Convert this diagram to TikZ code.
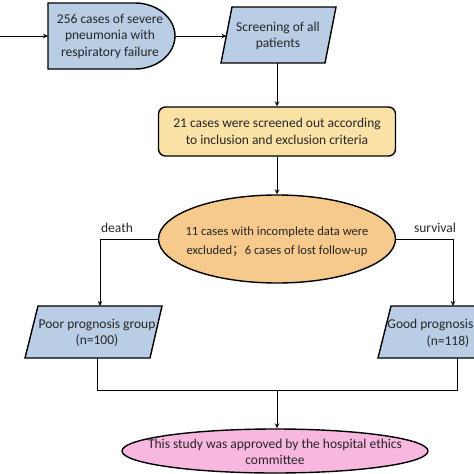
\documentclass[tikz,border=0pt]{standalone}
\usepackage{fontspec}
\setmainfont{Carlito}
\newfontfamily\cjk{Noto Sans CJK SC}
\usetikzlibrary{shapes.geometric,arrows.meta}
\definecolor{boxblue}{HTML}{B9CDE5}
\definecolor{boxgold}{HTML}{FAE2A6}
\definecolor{ellorange}{HTML}{F6C98C}
\definecolor{ellpink}{HTML}{F7B7DF}
\definecolor{txtgray}{HTML}{262626}
\tikzset{
  shapeline/.style={draw=black,line width=1.4pt},
  txt/.style={align=center,font=\fontsize{13.5}{16.5}\selectfont,text=txtgray,inner sep=0pt},
  conn/.style={draw=black,line width=0.9pt},
  arr/.style={conn,-{Stealth[length=5pt,width=4.5pt]}},
  lbl/.style={font=\fontsize{13.5}{15}\selectfont,text=txtgray,inner sep=0pt},
  ell/.style={shapeline,ellipse,inner sep=0pt},
}
\begin{document}
\begin{tikzpicture}[x=1pt,y=-1pt]
\useasboundingbox (0,0) rectangle (474,474);
\clip (0,0) rectangle (474,474);
% delay shape
\path[shapeline,fill=boxblue] (48,3) -- (135,3) .. controls (157,3) and (175,18) .. (175,36)
  .. controls (175,54) and (157,69) .. (135,69) -- (48,69) -- cycle;
\node[txt] (start) at (110,36) {256 cases of severe\\pneumonia with\\respiratory failure};
\coordinate (startW) at (48,36);
\coordinate (startE) at (175,36);
\coordinate (in) at (0,36);
% screening parallelogram
\path[shapeline,fill=boxblue] (221,63) -- (232,7) -- (336,7) -- (325,63) -- cycle;
\node[txt] (screen) at (278,36) {Screening of all\\patients};
\coordinate (screenW) at (226.5,36);
\coordinate (screenS) at (277,63);
% criteria
\node[shapeline,fill=boxgold,rounded corners=7pt,minimum width=237pt,minimum height=49pt,txt] (crit) at (277,131.5) {21 cases were screened out according\\to inclusion and exclusion criteria};
% exclusion ellipse
\node[ell,fill=ellorange,minimum width=237pt,minimum height=88pt] (excl) at (277,239) {};
\node[txt,font=\fontsize{12.6}{19}\selectfont] (exclTxt) at (277,242) {11 cases with incomplete data were\\excluded{\cjk ；}6 cases of lost follow-up};
% poor
\path[shapeline,fill=boxblue] (25,358) -- (38,306) -- (162,306) -- (150,358) -- cycle;
\node[txt] (poor) at (97,333) {Poor prognosis group\\(n=100)};
\coordinate (poorN) at (100,306);
\coordinate (poorS) at (97,358);
% good
\path[shapeline,fill=boxblue] (378,358) -- (391,306) -- (516,306) -- (503,358) -- cycle;
\node[txt] (good) at (448,333) {Good prognosis group\\(n=118)};
\coordinate (goodN) at (453,306);
\coordinate (goodS) at (457,358);
% final ellipse
\node[ell,fill=ellpink,minimum width=306pt,minimum height=44pt] (ethic) at (275,451) {};
\node[txt] (ethicTxt) at (275,452) {This study was approved by the hospital ethics\\committee};
% connectors
\draw[arr] (in) -- (startW);
\draw[arr] (startE) -- (screenW);
\draw[arr] (screenS) -- (crit.north);
\draw[arr] (crit.south) -- (excl.north);
\draw[arr] (excl.west) -| (poorN);
\draw[arr] (excl.east) -| (goodN);
\coordinate (joinL) at (97,390);
\coordinate (joinR) at (457,390);
\coordinate (joinM) at (277,390);
\draw[conn] (poorS) -- (joinL) -- (joinR) -- (goodS);
\draw[arr] (joinM) -- (ethic.north -| joinM);
\node[lbl] (death) at (117,228) {death};
\node[lbl] (surv) at (435,228) {survival};
\end{tikzpicture}
\end{document}
